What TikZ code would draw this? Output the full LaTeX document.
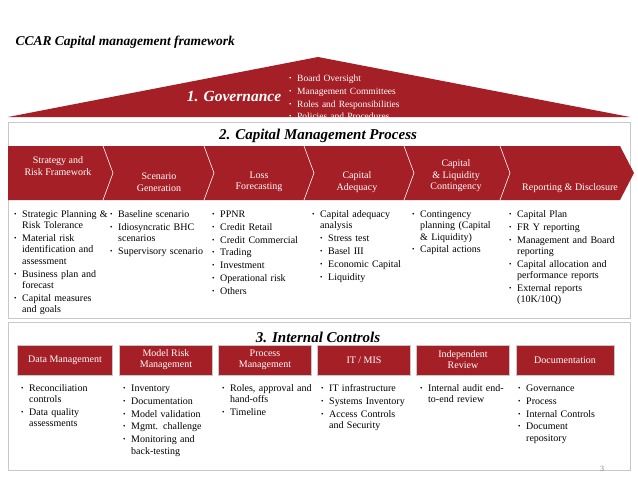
\documentclass[tikz,border=0pt]{standalone}
\usepackage{fontspec}
\setmainfont{Liberation Serif}
\definecolor{cred}{HTML}{A51F26}
\definecolor{cgray}{HTML}{C8C8C8}
\hyphenpenalty=10000
\newcommand\itm[1]{\par\hyphenpenalty=10000\relax\hangindent=8pt\hangafter=1\noindent\makebox[8pt][l]{\raisebox{1pt}{\scriptsize\textbullet}}#1\par\vspace{1.5pt}}
\newcommand\sitm[1]{\par\hyphenpenalty=10000\relax\hangindent=16pt\hangafter=1\noindent\hspace*{8pt}\makebox[8pt][l]{\raisebox{1pt}{\scriptsize\textbullet}}#1\par\vspace{1.5pt}}
\begin{document}
\begin{tikzpicture}[x=1pt,y=-1pt,
  lst/.style={anchor=north west,align=left,inner sep=0pt,font=\fontsize{10}{11.3}\selectfont},
  hd/.style={text=white,align=center,font=\fontsize{10}{11.5}\selectfont},
  cbox/.style={fill=cred,draw=cgray,line width=0.6pt,text=white,align=center,inner sep=0pt,font=\fontsize{10}{11}\selectfont},
  sect/.style={draw=cgray,line width=1pt}]
\useasboundingbox (0,0) rectangle (638,493);
\node[anchor=west,font=\bfseries\itshape\fontsize{13.5}{15}\selectfont] (title) at (12,42) {CCAR Capital management framework};
% roof
\fill[cred] (318,57) -- (630,117) -- (8,117) -- cycle;
\node[text=white,font=\bfseries\itshape\fontsize{15.5}{17}\selectfont] (gov) at (234,96) {1. Governance};
\node[lst,text=white,text width=150pt,font=\fontsize{9.5}{11.3}\selectfont] (govl) at (289,70) {\itm{Board Oversight}\itm{Management Committees}\itm{Roles and Responsibilities}\itm{Policies and Procedures}};
% section 2
\draw[sect] (8,122) rectangle (630,318);
\node[font=\bfseries\itshape\fontsize{15}{17}\selectfont] (t2) at (318,136) {2. Capital Management Process};
\fill[cred] (8,146) -- (620,146) -- (634,173) -- (620,200) -- (8,200) -- cycle;
\foreach \s in {103,204,304,404,500}{\draw[white,line width=0.6pt] (\s,146) -- (\s+10,173) -- (\s,200);}
\node[hd] (c1) at (58,166) {Strategy and\\Risk Framework};
\node[hd] (c2) at (159,182) {Scenario\\Generation};
\node[hd] (c3) at (259,182) {Loss\\Forecasting};
\node[hd] (c4) at (357,182) {Capital\\Adequacy};
\node[hd] (c5) at (456,176) {Capital\\\& Liquidity\\Contingency};
\node[hd] (c6) at (570,188) {Reporting \& Disclosure};
\node[lst,text width=95pt] (l1) at (14,206) {\itm{Strategic Planning \& Risk Tolerance}\itm{Material risk identification and assessment}\itm{Business plan and forecast}\itm{Capital measures and goals}};
\node[lst,text width=95pt] (l2) at (110,206) {\itm{Baseline scenario}\itm{Idiosyncratic BHC scenarios}\itm{Supervisory scenario}};
\node[lst,text width=100pt] (l3) at (212,206) {\itm{PPNR}\itm{Credit Retail}\itm{Credit Commercial}\itm{Trading}\itm{Investment}\itm{Operational risk}\itm{Others}};
\node[lst,text width=98pt] (l4) at (312,206) {\itm{Capital adequacy analysis}\sitm{Stress test}\sitm{Basel III}\sitm{Economic Capital}\sitm{Liquidity}};
\node[lst,text width=96pt] (l5) at (412,206) {\itm{Contingency planning (Capital \& Liquidity)}\itm{Capital actions}};
\node[lst,text width=120pt] (l6) at (509,206) {\itm{Capital Plan}\itm{FR Y reporting}\itm{Management and Board reporting}\itm{Capital allocation and performance reports}\itm{External reports (10K/10Q)}};
% section 3
\draw[sect] (8,322) rectangle (630,470);
\node[font=\bfseries\itshape\fontsize{15}{17}\selectfont] (t3) at (318,337) {3. Internal Controls};
\node[cbox,minimum width=95pt,minimum height=30pt] (d1) at (65,360) {Data Management};
\node[cbox,minimum width=93pt,minimum height=30pt] (d2) at (166,360) {Model Risk\\Management};
\node[cbox,minimum width=93pt,minimum height=30pt] (d3) at (265,360) {Process\\Management};
\node[cbox,minimum width=93pt,minimum height=30pt] (d4) at (364,360) {IT / MIS};
\node[cbox,minimum width=93pt,minimum height=30pt] (d5) at (463,360) {Independent\\Review};
\node[cbox,minimum width=98pt,minimum height=30pt] (d6) at (565,360) {Documentation};
\node[lst,text width=90pt] (m1) at (21,380) {\itm{Reconciliation controls}\itm{Data quality assessments}};
\node[lst,text width=90pt] (m2) at (123,380) {\itm{Inventory}\itm{Documentation}\itm{Model validation}\itm{Mgmt. challenge}\itm{Monitoring and back-testing}};
\node[lst,text width=90pt] (m3) at (222,380) {\itm{Roles, approval and hand-offs}\itm{Timeline}};
\node[lst,text width=90pt] (m4) at (321,380) {\itm{IT infrastructure}\itm{Systems Inventory}\itm{Access Controls and Security}};
\node[lst,text width=92pt] (m5) at (420,380) {\itm{Internal audit end-to-end review}};
\node[lst,text width=90pt] (m6) at (518,380) {\itm{Governance}\itm{Process}\itm{Internal Controls}\itm{Document repository}};
\node[font=\fontsize{8}{9}\selectfont,text=gray] (pg) at (602,469) {3};
\end{tikzpicture}
\end{document}
